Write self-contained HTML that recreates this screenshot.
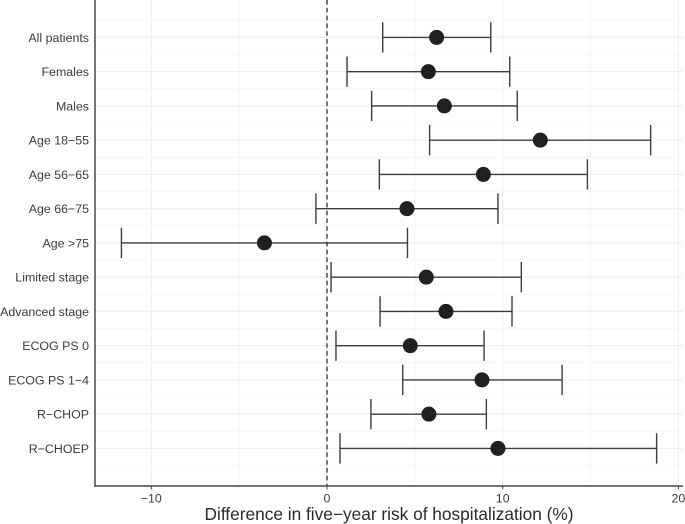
<!DOCTYPE html>
<html>
<head>
<meta charset="utf-8">
<style>
html,body{margin:0;padding:0;background:#fff;}
svg{display:block;font-family:"Liberation Sans",sans-serif;}
</style>
</head>
<body>
<svg id="chart" xmlns="http://www.w3.org/2000/svg" width="685" height="524" viewBox="0 0 685 524"></svg>
<script>
const categories = ["All patients","Females","Males","Age 18\u221255","Age 56\u221265","Age 66\u221275","Age >75","Limited stage","Advanced stage","ECOG PS 0","ECOG PS 1\u22124","R\u2212CHOP","R\u2212CHOEP"];
const estimates = [6.24,5.77,6.68,12.14,8.9,4.55,-3.56,5.65,6.77,4.74,8.82,5.8,9.73];
const lowerBounds = [3.17,1.14,2.54,5.84,2.98,-0.63,-11.7,0.23,3.02,0.51,4.31,2.5,0.74];
const upperBounds = [9.32,10.4,10.83,18.42,14.82,9.73,4.58,11.06,10.53,8.94,13.38,9.07,18.76];
const xTicks = [-10,0,10,20];
const xMinorTicks = [-5,5,15];
const referenceValue = 0;

const svg = document.getElementById('chart');
const NS = 'http://www.w3.org/2000/svg';
const xScale = v => 327 + v * 17.57;
const yScale = i => 37.4 + i * 34.25;
const plotLeft = 95, plotRight = 683, plotTop = 0, plotBottom = 486;

function make(tag, attrs, parent) {
  const el = document.createElementNS(NS, tag);
  for (const k in attrs) el.setAttribute(k, attrs[k]);
  (parent || svg).appendChild(el);
  return el;
}
function group(parent) {
  return make('g', {}, parent);
}

const gridG = group();


xMinorTicks.forEach(v => {
  const l = make('line', {x1:xScale(v),x2:xScale(v),y1:plotTop,y2:plotBottom,stroke:'#f4f4f4','stroke-width':0.8}, gridG);
  
  
});
xTicks.forEach(v => {
  const l = make('line', {x1:xScale(v),x2:xScale(v),y1:plotTop,y2:plotBottom,stroke:'#f0f0f0','stroke-width':1.2}, gridG);
  
  
});
for (let i = -1; i <= categories.length - 1; i++) {
  const y = yScale(i + 0.5);
  const l = make('line', {x1:plotLeft,x2:plotRight,y1:y,y2:y,stroke:'#f4f4f4','stroke-width':0.8}, gridG);
  
  
}
categories.forEach((c, i) => {
  const l = make('line', {x1:plotLeft,x2:plotRight,y1:yScale(i),y2:yScale(i),stroke:'#f0f0f0','stroke-width':1.2}, gridG);
  
  
});

const refLine = make('line', {x1:xScale(referenceValue),x2:xScale(referenceValue),y1:plotTop,y2:plotBottom,stroke:'#555','stroke-width':1.6,'stroke-dasharray':'4.6 3.2'});



categories.forEach((c, i) => {
  const y = yScale(i);
  const row = group();
  
  
  const x1 = xScale(lowerBounds[i]), x2 = xScale(upperBounds[i]);
  const style = {stroke:'#3c3c3c','stroke-width':1.4};
  const w = make('line', Object.assign({x1:x1,x2:x2,y1:y,y2:y}, style), row);
  
  
  const cl = make('line', Object.assign({x1:x1,x2:x1,y1:y-15.2,y2:y+15.2}, style), row);
  
  
  const ch = make('line', Object.assign({x1:x2,x2:x2,y1:y-15.2,y2:y+15.2}, style), row);
  
  
  const p = make('circle', {cx:xScale(estimates[i]),cy:y,r:7.5,fill:'#231f20'}, row);
  
  
  const t = make('text', {x:89,y:y+4.4,'text-anchor':'end','font-size':12.4,fill:'#3b3b3b'}, row);
  
  
  t.textContent = c;
});

const yAxis = make('line', {x1:plotLeft,x2:plotLeft,y1:plotTop,y2:plotBottom+0.8,stroke:'#555','stroke-width':1.6});


const xAxis = make('line', {x1:plotLeft,x2:plotRight,y1:plotBottom,y2:plotBottom,stroke:'#444','stroke-width':1.5});



xTicks.forEach(v => {
  const tk = make('line', {x1:xScale(v),x2:xScale(v),y1:plotBottom,y2:plotBottom+3.5,stroke:'#444','stroke-width':1});
  
  
  const t = make('text', {x:xScale(v),y:plotBottom+16.5,'text-anchor':'middle','font-size':12.4,fill:'#3b3b3b'});
  
  
  t.textContent = v < 0 ? '\u2212' + Math.abs(v) : String(v);
});

const title = make('text', {x:389,y:520,'text-anchor':'middle','font-size':17.3,fill:'#2a2a2a'});


title.textContent = 'Difference in five\u2212year risk of hospitalization (%)';
</script>
</body>
</html>
